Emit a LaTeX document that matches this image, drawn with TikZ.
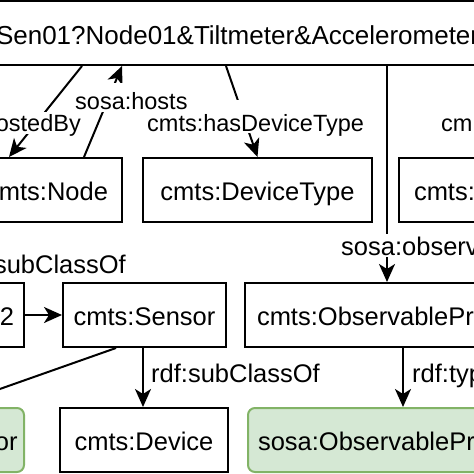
\documentclass[tikz,border=0pt]{standalone}
\usepackage{fontspec}
\setmainfont{Liberation Sans}
\usetikzlibrary{arrows.meta}
\definecolor{gfill}{HTML}{D5E8D4}
\definecolor{gline}{HTML}{82B366}
\begin{document}
\begin{tikzpicture}[x=1pt,y=-1pt,
  box/.style={draw, line width=2pt, inner ysep=0pt, minimum height=64pt, text height=25pt, text depth=5pt, font=\fontsize{25.5}{30}\selectfont},
  cbox/.style={box, inner xsep=0pt},
  greenbox/.style={box, fill=gfill, draw=gline, rounded corners=7pt},
  conn/.style={line width=2pt, -{Stealth[length=18pt,width=16pt,inset=5pt]}},
  edgeline/.style={line width=2pt},
  lbl/.style={fill=white, inner sep=0pt, text height=24pt, text depth=3pt, font=\fontsize{25.5}{30}\selectfont},
  slbl/.style={lbl, font=\fontsize{23.5}{28}\selectfont},
]
\useasboundingbox (0,0) rectangle (474,474);
\clip (0,0) rectangle (474,474);

% boxes
\node[box, minimum width=514pt, text width=482pt, inner xsep=16pt, align=left, text height=26pt, text depth=4pt, font=\fontsize{26}{31}\selectfont] (top) at (237,33) {Sen01?Node01\&Tiltmeter\&Accelerometer};

\node[box, minimum width=152pt, text width=124pt, inner xsep=14pt, align=right] (nd) at (46,190) {mts:Node};
\node[cbox, minimum width=229pt] (dt) at (257.5,190) {cmts:DeviceType};
\node[box, minimum width=101pt, text width=71pt, inner xsep=15pt, align=left] (x3) at (449.5,190) {cmts:};

\node[box, minimum width=54pt, text width=34pt, inner xsep=10pt, align=right] (b2) at (-3,315) {2};
\node[cbox, minimum width=163pt] (sn) at (144.5,315) {cmts:Sensor};
\node[box, minimum width=255pt, text width=231pt, inner xsep=12pt, align=left] (op) at (372.5,315) {cmts:ObservablePr};

\node[greenbox, minimum width=54pt, text width=41pt, inner xsep=6.5pt, align=right] (gs) at (-3,440) {or};
\node[cbox, minimum width=168pt] (dv) at (144,440) {cmts:Device};
\node[greenbox, minimum width=252pt, text width=232pt, inner xsep=10pt, align=left] (gp) at (374,440) {sosa:ObservablePr};

% connectors
\draw[conn] ([xshift=103pt]top.south west) -- ([xshift=40pt]nd.north west);
\draw[conn] ([xshift=115pt]nd.north west) -- ([xshift=143pt]top.south west);
\draw[conn] ([xshift=247pt]top.south west) -- (dt.north);
\coordinate (obs) at ([xshift=408pt]top.south west);
\draw[conn] (obs) -- (obs |- op.north);
\draw[conn] (b2.east) -- (sn.west);
\coordinate (ssT) at (-20,396);
\draw[edgeline] ([xshift=54pt]sn.south west) -- (ssT);
\draw[conn] ([xshift=-1.5pt]sn.south) -- ([xshift=-1pt]dv.north);
\draw[conn] ([xshift=159pt]op.south west) -- ([xshift=156pt]gp.north west);

% labels
\node[slbl, text height=19pt, anchor=base east] (lHB) at (81,131) {ostedBy};
\node[slbl, text height=31pt, text depth=2pt, anchor=base west] (lDT) at (147,131) {cmts:hasDeviceType};
\node[slbl, text height=26pt, anchor=base west] (lHo) at (75,109) {sosa:hosts};
\node[slbl, anchor=base west] (lCm) at (441,131) {cm};
\node[lbl, text height=21pt, text depth=2pt, anchor=base west] (lOb) at (341,255) {sosa:observ};
\node[lbl, anchor=base east] (lSC) at (126,273) {subClassOf};
\node[lbl, anchor=base west] (lRS) at (151,382) {rdf:subClassOf};
\node[lbl, anchor=base west] (lRT) at (412,382) {rdf:typ};
\end{tikzpicture}
\end{document}
